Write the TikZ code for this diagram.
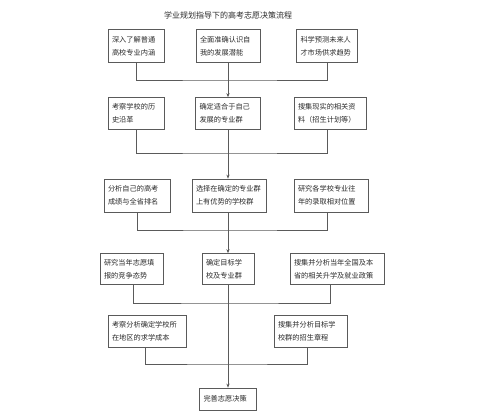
\documentclass[tikz,border=0pt]{standalone}
\usepackage{fontspec}
\newfontfamily\cjk{Noto Sans CJK SC}
\usetikzlibrary{arrows.meta}
\definecolor{framegray}{HTML}{5A5A5A}
\definecolor{inkgray}{HTML}{2A2A2A}
\begin{document}
\begin{tikzpicture}[x=1pt,y=-1pt,
            stage/.style={draw=framegray,line width=0.7pt,text=inkgray,align=left,inner xsep=4pt,inner ysep=0pt,
                font=\cjk\fontsize{7.2}{13}\selectfont},
            wire/.style={draw=framegray,line width=0.6pt},
            flow/.style={wire,-{Stealth[length=4pt,width=3.2pt]}}]
            \useasboundingbox (0,0) rectangle (500,418);
            \node[text=inkgray,font=\cjk\fontsize{8}{10}\selectfont] (title) at (228,15) {学业规划指导下的高考志愿决策流程};
            \node[stage,text width=48pt,minimum height=33pt] (a1) at (136,46) {深入了解普通\\高校专业内涵};
            \node[stage,text width=56pt,minimum height=33pt] (a2) at (228,46) {全面准确认识自\\我的发展潜能};
            \node[stage,text width=53pt,minimum height=33pt] (a3) at (327,46) {科学预测未来人\\才市场供求趋势};
            \node[stage,text width=48pt,minimum height=32pt] (b1) at (136,113.5) {考察学校的历\\史沿革};
            \node[stage,text width=57pt,minimum height=32pt] (b2) at (228,113.5) {确定适合于自己\\发展的专业群};
            \node[stage,text width=64pt,minimum height=32pt] (b3) at (330,113.5) {搜集现实的相关资\\料（招生计划等）};
            \node[stage,text width=58pt,minimum height=33pt] (c1) at (137,195.5) {分析自己的高考\\成绩与全省排名};
            \node[stage,text width=66pt,minimum height=33pt] (c2) at (229,195.5) {选择在确定的专业群\\上有优势的学校群};
            \node[stage,text width=66pt,minimum height=33pt] (c3) at (331,195.5) {研究各学校专业往\\年的录取相对位置};
            \node[stage,text width=55pt,minimum height=31pt] (d1) at (131.5,269) {研究当年志愿填\\报的竞争态势};
            \node[stage,text width=44pt,minimum height=31pt] (d2) at (228,269) {确定目标学\\校及专业群};
            \node[stage,text width=86pt,minimum height=31pt] (d3) at (337,269) {搜集并分析当年全国及本\\省的相关升学及就业政策};
            \node[stage,text width=70pt,minimum height=32pt] (e1) at (147,331) {考察分析确定学校所\\在地区的求学成本};
            \node[stage,text width=65pt,minimum height=32pt] (e2) at (310.5,331) {搜集并分析目标学\\校群的招生章程};
            \node[stage,text width=49pt,minimum height=22pt] (f) at (228,399) {完善志愿决策};
            \coordinate (bus1) at (228,80);
            \coordinate (bus2) at (228,153);
            \coordinate (bus3) at (228,230);
            \coordinate (bus4) at (228,303);
            \coordinate (bus5) at (228,364);
            \draw[wire] (a1.south) |- (bus1) -| (a3.south);
            \draw[flow] (a2.south) -- (b2.north);
            \draw[wire] (b1.south) |- (bus2) -| ([xshift=-3pt]b3.south);
            \draw[flow] (b2.south) -- (c2.north -| bus2);
            \draw[wire] (c1.south) |- (bus3) -| ([xshift=-4pt]c3.south);
            \draw[flow] (c2.south -| bus3) -- (d2.north);
            \draw[wire] ([xshift=1.5pt]d1.south) |- (bus4) -| ([xshift=-7pt]d3.south);
            \draw[wire] ([xshift=-2pt]e1.south) |- (bus5) -| ([xshift=-3.5pt]e2.south);
            \draw[flow] (d2.south) -- (f.north);
        \end{tikzpicture}
\end{document}
